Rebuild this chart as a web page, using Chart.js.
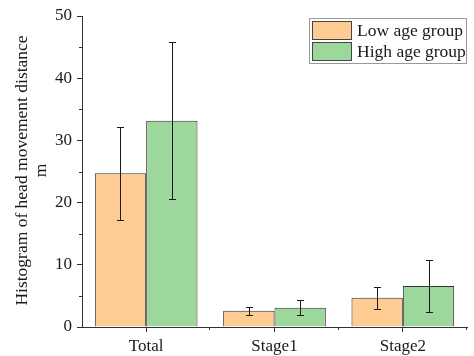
<!DOCTYPE html>
<html>
<head>
<meta charset="utf-8">
<script src="https://cdn.jsdelivr.net/npm/chart.js@4"></script>
<style>
html,body{margin:0;padding:0;background:#fff;}
#wrap{width:474px;height:356px;}
</style>
</head>
<body>
<div id="wrap"><canvas id="c" width="474" height="356"></canvas></div>
<script>
const categories = ['Total', 'Stage1', 'Stage2'];
const seriesNames = ['Low age group', 'High age group'];
const lowValues = [24.7, 2.6, 4.7];
const lowErrors = [7.5, 0.6, 1.8];
const highValues = [33.15, 3.1, 6.6];
const highErrors = [12.65, 1.2, 4.2];
const yTicks = [0, 10, 20, 30, 40, 50];
const yMinorTicks = [5, 15, 25, 35, 45];
const yTitleLines = ['Histogram of head movement distance', 'm'];

const FONT = '"Liberation Serif", "Times New Roman", serif';
const AXIS = '#333';
const errors = [lowErrors, highErrors];

const extras = {
  id: 'extras',
  afterDatasetsDraw(chart) {
    const ctx = chart.ctx;
    const y = chart.scales.y;
    ctx.save();
    ctx.strokeStyle = '#1a1a1a';
    ctx.lineWidth = 1;
    chart.data.datasets.forEach((ds, di) => {
      const meta = chart.getDatasetMeta(di);
      meta.data.forEach((bar, i) => {
        const v = ds.data[i], e = errors[di][i];
        const cx = Math.round(bar.x) + 0.5;
        const yt = Math.round(y.getPixelForValue(v + e)) + 0.5;
        const yb = Math.round(y.getPixelForValue(v - e)) + 0.5;
        ctx.beginPath();
        ctx.moveTo(cx, yt); ctx.lineTo(cx, yb);
        ctx.moveTo(cx - 3.5, yt); ctx.lineTo(cx + 3.5, yt);
        ctx.moveTo(cx - 3.5, yb); ctx.lineTo(cx + 3.5, yb);
        ctx.stroke();
      });
    });
    ctx.restore();
  },
  afterDraw(chart) {
    const ctx = chart.ctx;
    const y = chart.scales.y;
    const ca = chart.chartArea;
    ctx.save();
    ctx.strokeStyle = AXIS;
    ctx.lineWidth = 1;
    ctx.beginPath();
    yMinorTicks.forEach(v => {
      const py = Math.round(y.getPixelForValue(v)) + 0.5;
      ctx.moveTo(ca.left - 3, py); ctx.lineTo(ca.left, py);
    });
    const n = categories.length;
    const w = (ca.right - ca.left) / n;
    for (let i = 1; i <= n; i++) {
      const px = Math.round(ca.left + i * w) - 0.5;
      ctx.moveTo(px, ca.bottom); ctx.lineTo(px, ca.bottom + 3);
    }
    ctx.stroke();

    ctx.fillStyle = '#1a1a1a';
    ctx.font = '17.5px ' + FONT;
    ctx.textAlign = 'center';
    ctx.textBaseline = 'alphabetic';
    ctx.translate(0, (ca.top + ca.bottom) / 2 - 1);
    ctx.rotate(-Math.PI / 2);
    ctx.fillText(yTitleLines[0], 0, 27);
    ctx.fillText(yTitleLines[1], 0, 46);
    ctx.restore();

    ctx.save();
    const lx = 309, ly = 18, lw = 158, lh = 46;
    ctx.fillStyle = '#fff';
    ctx.fillRect(lx, ly, lw, lh);
    ctx.strokeStyle = '#999';
    ctx.lineWidth = 1;
    ctx.strokeRect(lx + 0.5, ly + 0.5, lw - 1, lh - 1);
    ctx.font = '17.5px ' + FONT;
    ctx.textAlign = 'left';
    ctx.textBaseline = 'alphabetic';
    chart.data.datasets.forEach((ds, di) => {
      const sy = ly + 3 + di * 21;
      ctx.fillStyle = ds.backgroundColor;
      ctx.fillRect(312, sy, 40, 19);
      ctx.strokeStyle = '#444';
      ctx.strokeRect(312.5, sy + 0.5, 39, 18);
      ctx.fillStyle = '#1a1a1a';
      ctx.fillText(ds.label, 357, sy + 15);
    });
    ctx.restore();
  }
};

new Chart(document.getElementById('c'), {
  type: 'bar',
  data: {
    labels: categories,
    datasets: [
      { label: seriesNames[0], data: lowValues, backgroundColor: '#FECB92', borderColor: '#333', borderWidth: 1 },
      { label: seriesNames[1], data: highValues, backgroundColor: '#9ED79C', borderColor: '#333', borderWidth: 1 }
    ]
  },
  options: {
    responsive: false,
    animation: false,
    events: [],
    layout: { padding: { left: 0, top: 16, right: 7, bottom: 0 } },
    datasets: { bar: { categoryPercentage: 0.8, barPercentage: 1.0 } },
    plugins: { legend: { display: false }, tooltip: { enabled: false } },
    scales: {
      x: {
        afterFit: s => { s.height = 29; },
        grid: { display: true, drawOnChartArea: false, drawTicks: true, tickLength: 5, offset: false, color: AXIS },
        border: { display: true, color: AXIS, width: 1 },
        ticks: { color: '#1a1a1a', font: { family: FONT, size: 17 }, padding: 4 }
      },
      y: {
        min: 0, max: 50,
        afterFit: s => { s.width = 82; },
        afterBuildTicks: s => { s.ticks = yTicks.map(v => ({ value: v })); },
        grid: { display: true, drawOnChartArea: false, drawTicks: true, tickLength: 5, color: AXIS },
        border: { display: true, color: AXIS, width: 1 },
        ticks: { color: '#1a1a1a', font: { family: FONT, size: 17 }, padding: 5 }
      }
    }
  },
  plugins: [extras]
});
</script>
</body>
</html>
